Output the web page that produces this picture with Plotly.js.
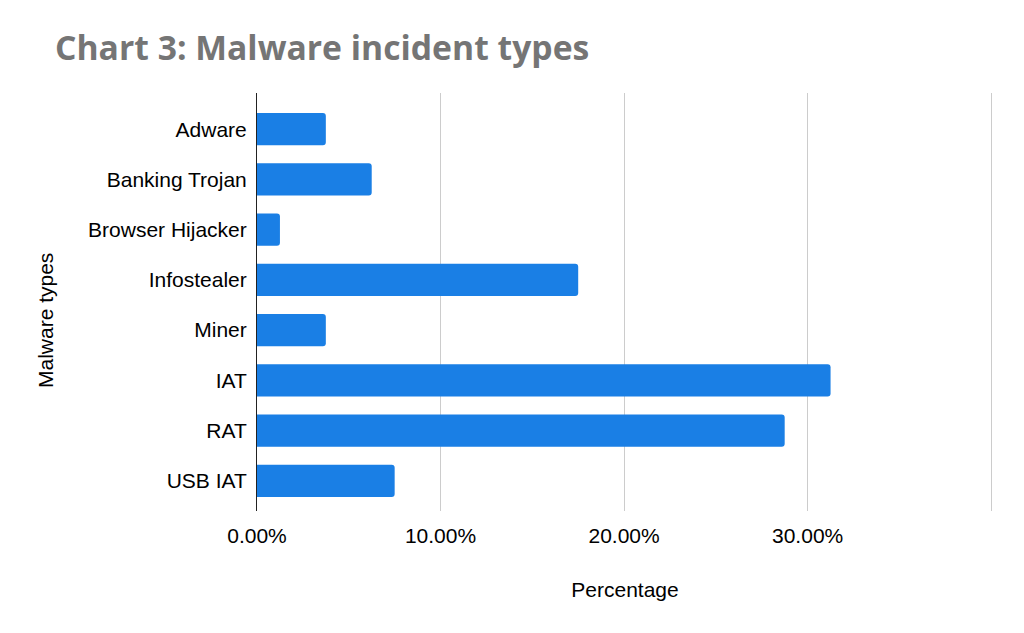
<!DOCTYPE html>
<html>
<head>
<meta charset="utf-8">
<script src="https://cdn.plot.ly/plotly-3.0.1.min.js"></script>
<style>html,body{margin:0;padding:0;background:#fff;}#chart{width:1024px;height:633px;}</style>
</head>
<body>
<div id="chart"></div>
<script>
const categories = ["Adware", "Banking Trojan", "Browser Hijacker", "Infostealer", "Miner", "IAT", "RAT", "USB IAT"];
const percentages = [3.75, 6.25, 1.25, 17.5, 3.75, 31.25, 28.75, 7.5];
const tickValues = [0, 10, 20, 30, 40];
const tickLabels = ["0.00%", "10.00%", "20.00%", "30.00%", ""];

const labelFont = { family: "'Liberation Sans', Arial, sans-serif", size: 21, color: "#000000" };

const trace = {
  type: "bar",
  orientation: "h",
  x: percentages,
  y: categories,
  marker: { color: "#1a7fe5", cornerradius: 3 },
  hoverinfo: "none"
};

const layout = {
  width: 1024,
  height: 633,
  paper_bgcolor: "#ffffff",
  plot_bgcolor: "#ffffff",
  margin: { l: 257, r: 31, t: 93, b: 122 },
  bargap: 0.36,
  showlegend: false,
  title: {
    text: "<b>Chart 3: Malware incident types</b>",
    x: 0, xref: "paper", xanchor: "left",
    y: 0.924, yref: "container", yanchor: "middle",
    pad: { l: -202 },
    font: { family: "'Open Sans', sans-serif", size: 33.7, color: "#757575" }
  },
  xaxis: {
    range: [0, 40.1],
    tickvals: tickValues,
    ticktext: tickLabels,
    showgrid: true,
    gridcolor: "#cccccc",
    gridwidth: 1,
    zeroline: false,
    showline: false,
    ticks: "",
    ticklabelstandoff: 10,
    tickfont: labelFont,
    title: {
      text: "Percentage",
      standoff: 36,
      font: labelFont
    },
    fixedrange: true
  },
  yaxis: {
    range: [7.6, -0.72],
    autorange: false,
    showgrid: false,
    showline: true,
    linecolor: "#222222",
    linewidth: 1,
    ticks: "",
    ticklabelstandoff: 5,
    tickfont: labelFont
  },
  annotations: [{
    text: "Malware types",
    textangle: -90,
    xref: "paper", yref: "paper",
    x: 0, y: 0.4545,
    xanchor: "center", yanchor: "middle",
    xshift: -212,
    showarrow: false,
    font: labelFont
  }]
};

Plotly.newPlot("chart", [trace], layout, { staticPlot: true, displayModeBar: false });
</script>
</body>
</html>
